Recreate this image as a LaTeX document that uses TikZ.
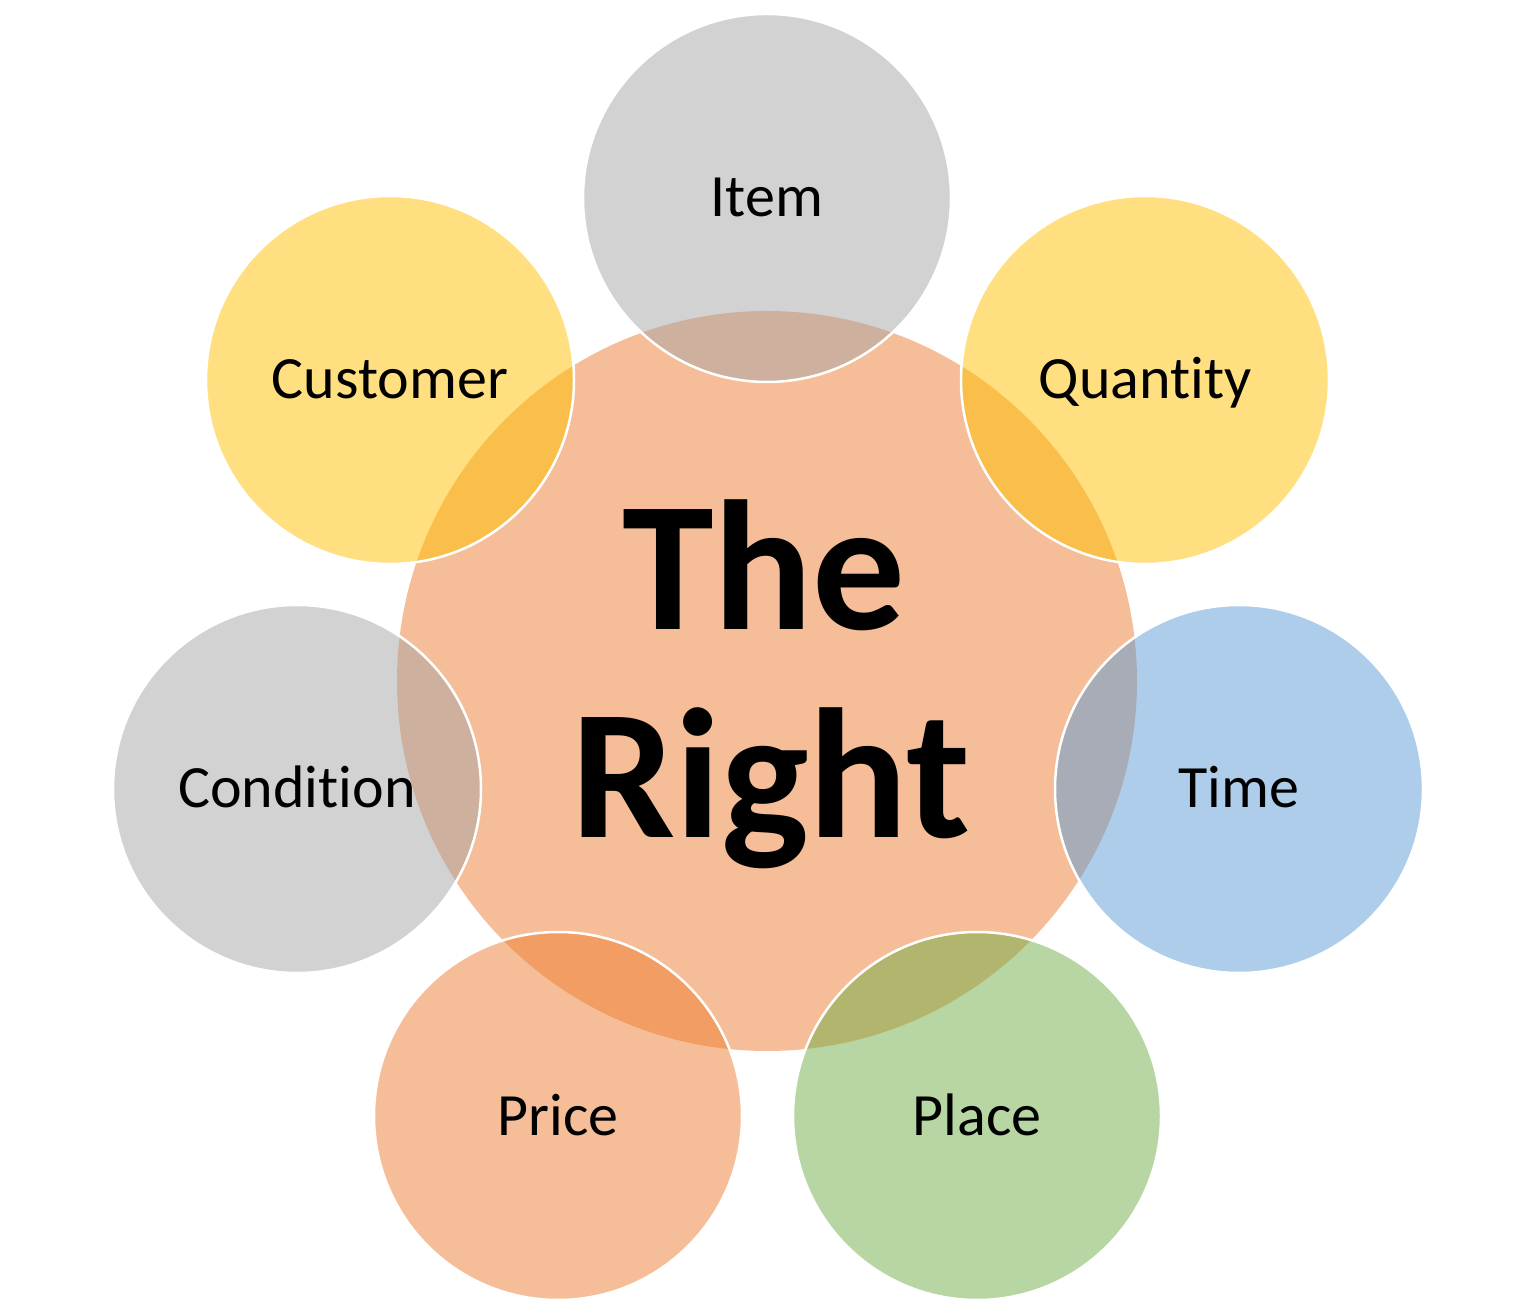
\documentclass[tikz,border=0pt]{standalone}
\usepackage{fontspec}
\setmainfont[RawFeature=-liga]{Carlito}
\definecolor{cOrange}{HTML}{ED7D31}
\definecolor{cGray}{HTML}{A5A5A5}
\definecolor{cYellow}{HTML}{FFC000}
\definecolor{cBlue}{HTML}{5B9BD5}
\definecolor{cGreen}{HTML}{70AD47}
\tikzset{
  hub/.style={circle, minimum size=740pt, inner sep=0pt, fill=cOrange, fill opacity=0.5, draw=none},
  petal/.style={circle, minimum size=368pt, inner sep=0pt, fill opacity=0.5, draw=white, draw opacity=1, line width=2.5pt, text opacity=1,
    font=\fontsize{60}{72}\selectfont, text height=38pt, text depth=0pt},
  bigtext/.style={anchor=base, inner sep=0pt, font=\fontsize{185}{210}\bfseries\selectfont}
}
\begin{document}
\begin{tikzpicture}[x=1pt,y=1pt]
\useasboundingbox (0,0) rectangle (1536,1315);
\node[hub] (hub) at (767,634) {};
\node[petal, fill=cGray] (item) at (767,1117) {Item};
\node[petal, fill=cYellow] (quantity) at (1145,935) {Quantity};
\node[petal, fill=cBlue] (time) at (1239,526) {Time};
\node[petal, fill=cGreen] (place) at (977,199) {Place};
\node[petal, fill=cOrange] (price) at (558,199) {Price};
\node[petal, fill=cGray] (condition) at (297,526) {Condition};
\node[petal, fill=cYellow] (customer) at (390,935) {Customer};
\node[bigtext] (the) at (764,685) {The};
\node[bigtext] (right) at (771,477) {Right};
\end{tikzpicture}
\end{document}
